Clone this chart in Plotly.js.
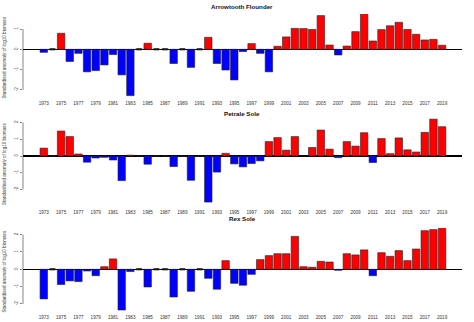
<!DOCTYPE html>
<html>
<head>
<meta charset="utf-8">
<script src="https://cdn.plot.ly/plotly-3.0.1.min.js"></script>
<style>html,body{margin:0;padding:0;background:#fff;}#chart{width:474px;height:322px;}</style>
</head>
<body>
<div id="chart"></div>
<script>
const years = [1973,1974,1975,1976,1977,1978,1979,1980,1981,1982,1983,1984,1985,1986,1987,1988,1989,1990,1991,1992,1993,1994,1995,1996,1997,1998,1999,2000,2001,2002,2003,2004,2005,2006,2007,2008,2009,2010,2011,2012,2013,2014,2015,2016,2017,2018,2019];
const xTickYears = [1973,1975,1977,1979,1981,1983,1985,1987,1989,1991,1993,1995,1997,1999,2001,2003,2005,2007,2009,2011,2013,2015,2017,2019];
const panelTitles = ["Arrowtooth Flounder","Petrale Sole","Rex Sole"];
const yTitle = "Standardised anomaly of log10 biomass";

const arrowtooth = [-0.15,0,0.79,-0.6,-0.2,-1.11,-1.05,-0.77,-0.26,-1.26,-2.28,0,0.3,0,0,-0.7,0,-0.89,0,0.59,-0.7,-1.02,-1.51,-0.11,0.28,-0.2,-1.11,0.15,0.61,1.03,1.02,0.98,1.66,0.21,-0.28,0.16,0.87,1.85,0.41,0.97,1.16,1.33,0.98,0.74,0.46,0.49,0.2];
const petrale = [0.47,0,1.49,1.16,0.12,-0.37,-0.12,-0.08,-0.24,-1.47,0.05,0,-0.49,0,0,-0.63,0,-1.45,0,-2.75,-0.96,0.16,-0.47,-0.65,-0.45,-0.29,0.86,1.1,0.35,1.16,null,0.51,1.55,0.41,-0.1,0.86,0.59,1.39,-0.39,1.04,0.14,1.08,0.37,0.24,1.41,2.2,1.75];
const rex = [-1.71,0,-0.88,-0.67,-0.71,-0.1,-0.37,0.15,0.6,-2.35,-0.13,0,-1.02,0,0,-1.6,0,-1.27,0,-0.52,-1.15,0.5,-0.81,-0.92,-0.29,0.56,0.79,0.9,0.9,1.9,0.15,0.12,0.46,0.42,-0.06,0.9,0.83,1.12,-0.37,0.96,0.75,1.08,0.5,1.17,2.23,2.29,2.5];
const yTicks1 = [1,0,-1,-2];
const yTicks2 = [2,1,0,-1,-2];
const yTicks3 = [2,1,0,-1,-2];

const series = [arrowtooth, petrale, rex];
const yTickSets = [yTicks1, yTicks2, yTicks3];

// layout geometry (pixels)
const W = 474, H = 322, ML = 23, MR = 12;
const PW = W - ML - MR;
const panels = [
  {top:14, bottom:99, zero:49.3, unit:20.3, titleY:6},
  {top:118, bottom:208, zero:156, unit:16.75, titleY:113},
  {top:228, bottom:313, zero:269.3, unit:17.33, titleY:218}
];
const py = p => 1 - p / H;
const px = p => (p - ML) / PW;

const traces = [];
const layout = {
  width: W, height: H,
  margin: {l: ML, r: MR, t: 0, b: 0},
  paper_bgcolor: '#fff', plot_bgcolor: '#fff',
  showlegend: false,
  bargap: 0.14,
  font: {family: 'Liberation Sans, Arial, sans-serif', color: '#222'},
  annotations: [], shapes: []
};

series.forEach((vals, i) => {
  const n = i === 0 ? '' : String(i + 1);
  const P = panels[i];
  traces.push({
    type: 'bar', x: years, y: vals,
    xaxis: 'x' + n, yaxis: 'y' + n,
    marker: {
      color: vals.map(v => (v !== null && v > 0) ? '#ff0000' : '#0000ff'),
      line: {color: '#222', width: 0.6}
    },
    hoverinfo: 'x+y'
  });
  // zero-height bars appear as small dashes on the baseline
  const zx = [], zy = [];
  vals.forEach((v, k) => { if (v === 0) { zx.push(years[k]); zy.push(v); } });
  traces.push({
    type: 'scatter', mode: 'markers', x: zx, y: zy,
    xaxis: 'x' + n, yaxis: 'y' + n,
    marker: {symbol: 'line-ew', size: 4, line: {color: '#111', width: 2}},
    hoverinfo: 'skip'
  });
  const yr = [-(P.bottom - P.zero) / P.unit, (P.zero - P.top) / P.unit];
  layout['xaxis' + n] = {
    domain: [0, 1], anchor: 'y' + n, range: [1970.6, 2021.3],
    tickvals: xTickYears, ticktext: xTickYears.map(String),
    tickfont: {size: 4.6, color: '#333'}, ticks: '', showgrid: false,
    zeroline: false, showline: false, fixedrange: true
  };
  const ticks = yTickSets[i];
  layout['yaxis' + n] = {
    domain: [py(P.bottom), py(P.top)], anchor: 'x' + n, range: yr,
    tickvals: ticks, ticktext: ticks.map(String),
    tickangle: -90, tickfont: {size: 4.6, color: '#444'},
    ticks: 'outside', ticklen: 2.5, tickwidth: 0.6, tickcolor: '#333',
    showgrid: false, showline: false,
    zeroline: true, zerolinecolor: '#000', zerolinewidth: 1.1,
    fixedrange: true
  };
  layout.shapes.push({
    type: 'line', xref: 'paper', yref: 'y' + n,
    x0: 0, x1: 0, y0: Math.min(...ticks), y1: Math.max(...ticks),
    line: {color: '#333', width: 0.6}
  });
  layout.annotations.push({
    text: '<b>' + panelTitles[i] + '</b>', xref: 'paper', yref: 'paper',
    x: px(242), y: py(P.titleY + 0.5), xanchor: 'center', yanchor: 'middle',
    showarrow: false, font: {size: 6.2, color: '#111'}
  });
  layout.annotations.push({
    text: yTitle, xref: 'paper', yref: 'paper',
    x: px(4), y: py((P.top + P.bottom) / 2 + 1), xanchor: 'center', yanchor: 'middle',
    textangle: -90, showarrow: false, font: {size: 4.6, color: '#333'}
  });
});

Plotly.newPlot('chart', traces, layout, {displayModeBar: false, staticPlot: true});
</script>
</body>
</html>
